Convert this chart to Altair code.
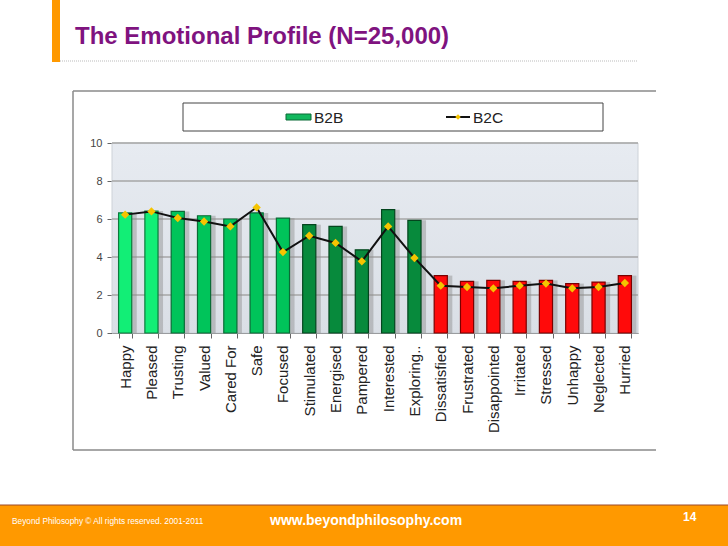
import altair as alt
import pandas as pd

# ---- data ----
emotions = ["Happy", "Pleased", "Trusting", "Valued", "Cared For", "Safe", "Focused",
            "Stimulated", "Energised", "Pampered", "Interested", "Exploring..",
            "Dissatisfied", "Frustrated", "Disappointed", "Irritated", "Stressed",
            "Unhappy", "Neglected", "Hurried"]
b2b = [6.32, 6.42, 6.4, 6.17, 6.0, 6.32, 6.05, 5.7, 5.61, 4.38, 6.49, 5.93,
       3.02, 2.72, 2.77, 2.72, 2.77, 2.6, 2.68, 3.02]
b2c = [6.23, 6.4, 6.05, 5.87, 5.61, 6.61, 4.26, 5.12, 4.74, 3.77, 5.61, 3.95,
       2.49, 2.42, 2.35, 2.49, 2.6, 2.35, 2.42, 2.63]
tone = ["Very positive"] * 2 + ["Positive"] * 5 + ["Engaged"] * 5 + ["Negative"] * 8
tone_order = ["Very positive", "Positive", "Engaged", "Negative"]
y_ticks = [0, 2, 4, 6, 8, 10]

df = pd.DataFrame({"emotion": emotions, "B2B": b2b, "B2C": b2c, "tone": tone})
grid_df = pd.DataFrame({"v": y_ticks[1:]})
one = pd.DataFrame({"k": [0]})

FONT = "Liberation Sans"
W, H = 526, 190

fill_scale = alt.Scale(domain=tone_order, range=["#12EE76", "#00C45A", "#078A3C", "#FF0A0A"])
stroke_scale = alt.Scale(domain=tone_order, range=["#0B7A3C", "#0A6B36", "#04451E", "#7A0000"])
xscale = alt.Scale(paddingInner=0.5, paddingOuter=0.25)
yscale = alt.Scale(domain=[0, 10], nice=False)

xaxis = alt.Axis(labelAngle=-90, labelFontSize=15, labelColor="#222222",
                 labelFont=FONT, labelPadding=7, tickBand="extent",
                 tickSize=5, tickColor="#666666", domainColor="#666666",
                 grid=False, labelOverlap=False)
yaxis = alt.Axis(values=y_ticks, labelFontSize=11, labelColor="#444444",
                 labelFont=FONT, labelPadding=5, tickSize=5, labelOverlap=False,
                 tickColor="#666666", domainColor="#666666", grid=False)

X = alt.X("emotion:N", sort=emotions, title=None, scale=xscale, axis=xaxis)

def Y(field):
    return alt.Y(field, scale=yscale, title=None, axis=yaxis)

# plot background
bg = alt.Chart(one).mark_rect(
    color=alt.LinearGradient(gradient="linear", x1=0, y1=0, x2=0, y2=1,
                             stops=[alt.GradientStop(color="#E7EBF1", offset=0),
                                    alt.GradientStop(color="#DADFE6", offset=1)]),
    stroke="#CDD2D8", strokeWidth=1
).encode(x=alt.value(0), x2=alt.value(W), y=alt.value(0), y2=alt.value(H))

grid = alt.Chart(grid_df).mark_rule(color="#A6A6A6", strokeWidth=1.5).encode(
    y=Y("v:Q"), x=alt.value(0), x2=alt.value(W))

shadow = alt.Chart(df).mark_bar(xOffset=5, color="#8C8C8C", opacity=0.45).encode(
    x=X, y=Y("B2B:Q"))

bars = alt.Chart(df).mark_bar(strokeWidth=1.2).encode(
    x=X, y=Y("B2B:Q"),
    color=alt.Color("tone:N", scale=fill_scale, legend=None),
    stroke=alt.Stroke("tone:N", scale=stroke_scale, legend=None))

line = alt.Chart(df).mark_line(color="#111111", strokeWidth=2).encode(
    x=X, y=Y("B2C:Q"))
pts = alt.Chart(df).mark_point(shape="diamond", filled=True, color="#F5C400",
                               size=70, opacity=1).encode(
    x=X, y=Y("B2C:Q"))

def rule(x, y, x2=None, y2=None, color="#8A8A8A", width=1.5, dash=None):
    kw = dict(color=color, strokeWidth=width)
    if dash:
        kw["strokeDash"] = dash
    enc = dict(x=alt.value(x), y=alt.value(y))
    if x2 is not None:
        enc["x2"] = alt.value(x2)
    if y2 is not None:
        enc["y2"] = alt.value(y2)
    return alt.Chart(one).mark_rule(**kw).encode(**enc)

def rect(x, x2, y, y2, color, **kw):
    return alt.Chart(one).mark_rect(color=color, **kw).encode(
        x=alt.value(x), x2=alt.value(x2), y=alt.value(y), y2=alt.value(y2))

def text(s, x, y, size, color, weight="normal", align="left"):
    return alt.Chart(one).mark_text(text=s, font=FONT, fontSize=size, color=color,
                                    fontWeight=weight, align=align,
                                    baseline="alphabetic").encode(
        x=alt.value(x), y=alt.value(y))

# frame around chart
frame = [
    rule(-39, -52, x2=544),
    rule(-39, -52, y2=307),
    rule(-39, 307, x2=544),
]

# legend
legend = [
    rect(71, 491, -40, -12, "white", stroke="#444444", strokeWidth=1),
    rect(174, 199, -29, -23, "#12B85E", stroke="#0A6B36", strokeWidth=1),
    text("B2B", 202, -20, 15.5, "#222222"),
    rule(334, -26, x2=358, color="#111111", width=2),
    alt.Chart(one).mark_point(shape="diamond", filled=True, color="#F5C400",
                              size=30, opacity=1).encode(x=alt.value(346), y=alt.value(-26)),
    text("B2C", 361, -20, 15.5, "#222222"),
]

# page header
header = [
    rect(-60, -52, -143, -81, "#FF9900"),
    rule(-52, -82, x2=525, color="#BBBBBB", width=1, dash=[1, 1]),
    text("The Emotional Profile (N=25,000)", -37, -99, 24, "#7F137F", weight="bold"),
]

# footer
footer = [
    rect(-112, 616, 362, 403, "#FF9900"),
    rule(-112, 362, x2=616, color="#9B4A2A", width=1),
    text("Beyond Philosophy \u00a9 All rights reserved. 2001-2011", -100, 381, 8.3, "white"),
    text("www.beyondphilosophy.com", 158, 382, 14, "white", weight="bold"),
    text("14", 571, 378, 12, "white", weight="bold"),
]

chart = alt.layer(
    bg, grid, shadow, bars, line, pts, *frame, *legend, *header, *footer
).properties(
    width=W, height=H,
    autosize=alt.AutoSizeParams(type="none"),
    padding={"left": 112, "top": 143, "right": 90, "bottom": 213},
    background="white",
).configure_view(strokeWidth=0)

chart.save("out.html", embed_options={"renderer": "svg", "actions": False})
